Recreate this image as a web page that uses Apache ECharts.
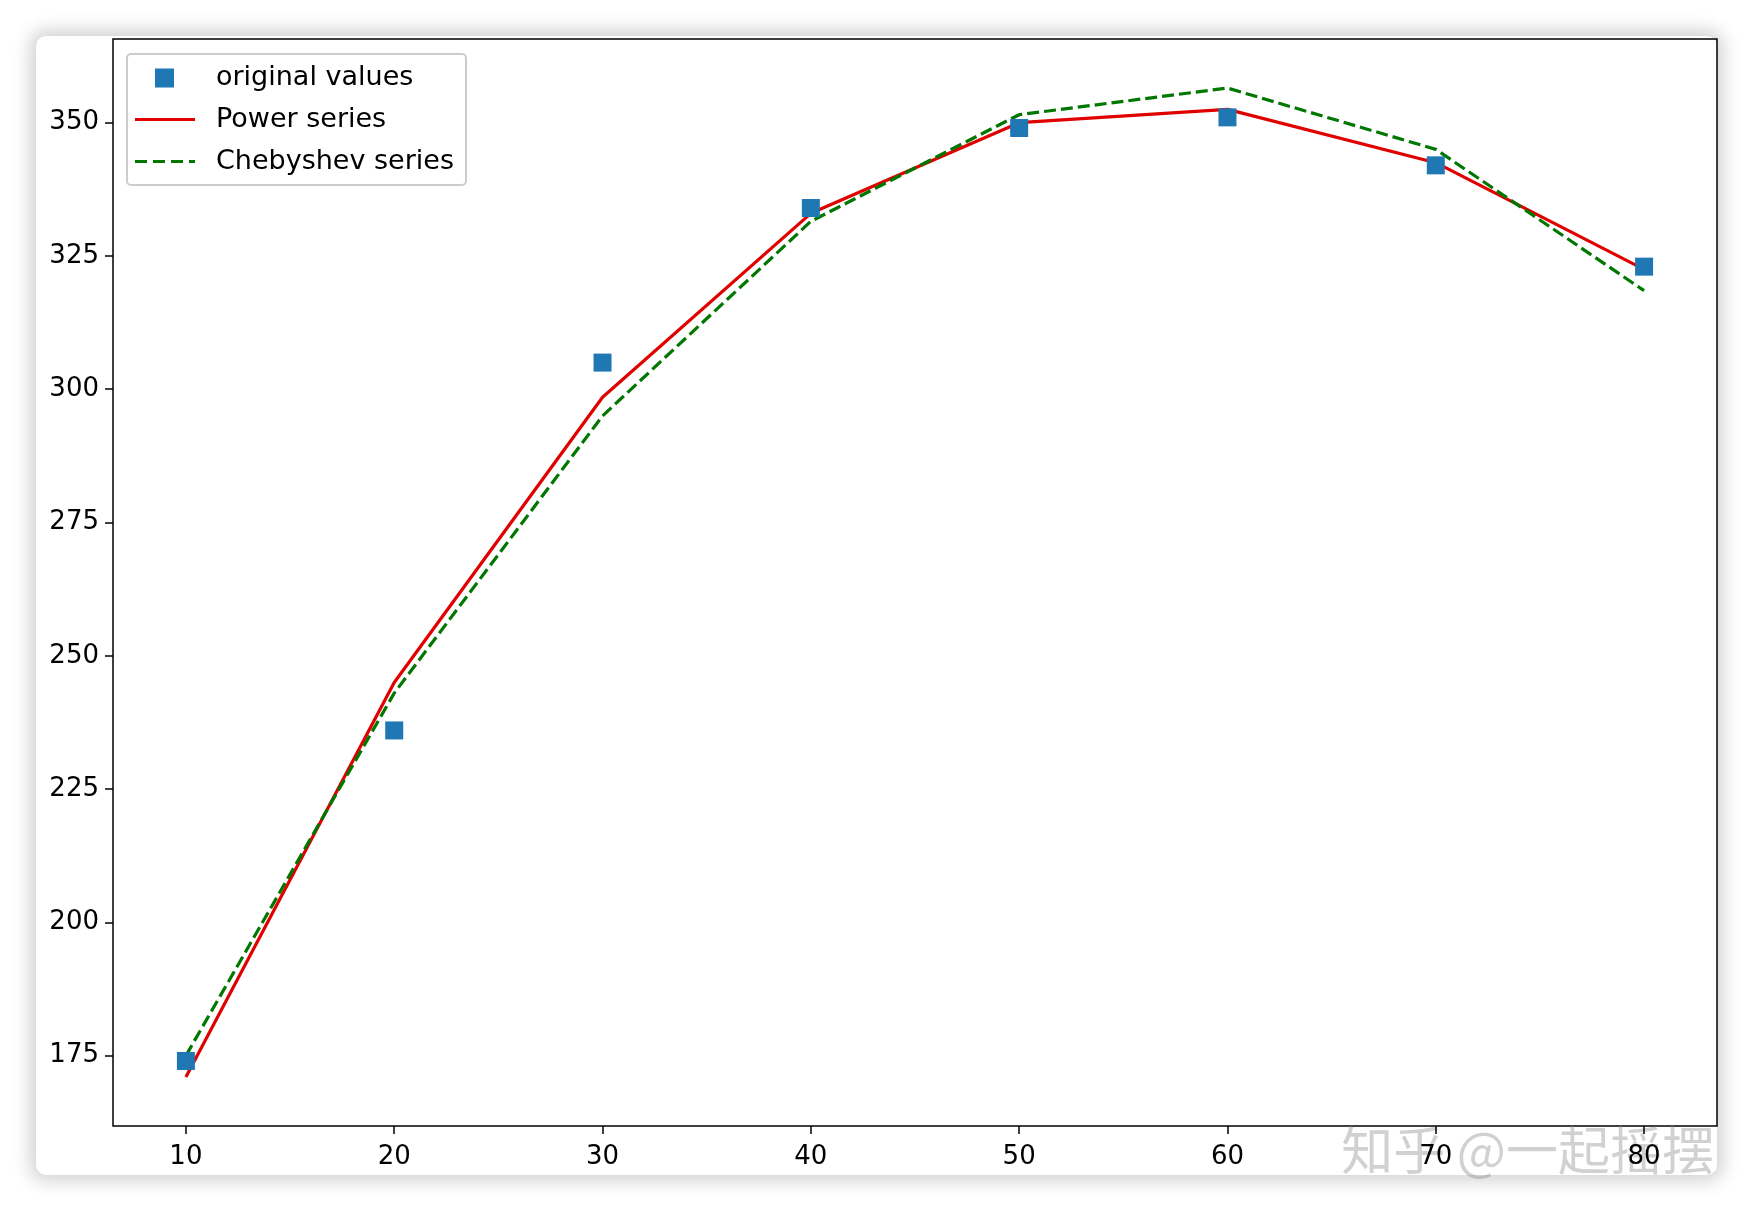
<!DOCTYPE html>
<html><head><meta charset="utf-8">
<script src="https://cdn.jsdelivr.net/npm/echarts@6/dist/echarts.min.js"></script>
<style>
html,body{margin:0;padding:0;background:#fff;}
#card{position:absolute;left:36px;top:36px;width:1681px;height:1139px;background:#fff;border-radius:10px;box-shadow:0 0 18px 6px rgba(0,0,0,0.18);}
#c{position:absolute;left:0;top:0;width:1754px;height:1212px;}
</style></head>
<body><div id="card"></div><div id="c"></div>
<script>
const xs = [10,20,30,40,50,60,70,80];
const original = [174,236,305,334,349,351,342,323];
const power = [171,245,298.5,333,350,352.5,342.5,322.5];
const cheb = [175,243,295,331.5,351.5,356.5,345,318.5];
const xTicks = [10,20,30,40,50,60,70,80];
const yTicks = [175,200,225,250,275,300,325,350];
const pair = a => xs.map((x,i)=>[x,a[i]]);
const chart = echarts.init(document.getElementById('c'));
const font = {fontFamily:'DejaVu Sans',fontSize:26,color:'#000'};
const lfont = {fontFamily:'DejaVu Sans',fontSize:27,color:'#000'};
const ext = 'M0,0L0,0.01L0.01,0z M60,20L60,19.99L59.99,20z ';
const sqIcon = 'path://'+ext+'M20,1h19v19h-19z';
const lineIcon = 'path://'+ext+'M0,8.5h60v3h-60z';
const dashIcon = 'path://'+ext+'M0,8.5h12v3h-12z M18,8.5h12v3h-12z M36,8.5h12v3h-12z M54,8.5h6v3h-6z';
chart.setOption({
  animation:false,
  grid:{left:113,right:37,top:39,bottom:86,show:true,borderColor:'#000',borderWidth:1.5,backgroundColor:'transparent'},
  xAxis:{type:'value',min:6.5,max:83.5,splitLine:{show:false},
    axisLine:{show:false},
    axisTick:{show:true,customValues:xTicks,length:8,lineStyle:{color:'#000',width:1.5}},
    axisLabel:Object.assign({customValues:xTicks,margin:18},font)},
  yAxis:{type:'value',min:161.8,max:365.7,splitLine:{show:false},
    axisLine:{show:false},
    axisTick:{show:true,customValues:yTicks,length:8,lineStyle:{color:'#000',width:1.5}},
    axisLabel:Object.assign({customValues:yTicks,margin:14},font)},
  legend:{orient:'vertical',left:127,top:54,itemGap:15,itemWidth:60,itemHeight:20,
    padding:[10,12,10,8],backgroundColor:'#fff',borderColor:'#ccc',borderWidth:2,borderRadius:4,
    textStyle:Object.assign({padding:[0,0,0,16]},lfont),
    data:[{name:'original values',icon:sqIcon,itemStyle:{color:'#1f77b4'}},
          {name:'Power series',icon:lineIcon,itemStyle:{color:'#e00000'}},
          {name:'Chebyshev series',icon:dashIcon,itemStyle:{color:'#007700'}}]},
  graphic:[{type:'text',right:40,bottom:36,style:{text:'知乎 @一起摇摆',fontFamily:'Noto Sans CJK SC',fontSize:52,fill:'rgba(140,140,140,0.4)'}}],
  series:[
    {name:'original values',type:'scatter',data:pair(original),symbol:'rect',symbolSize:18,itemStyle:{color:'#1f77b4',opacity:1},z:3},
    {name:'Power series',type:'line',data:pair(power),symbol:'none',lineStyle:{color:'#e00000',width:3.2},itemStyle:{color:'#e00000'},z:2},
    {name:'Chebyshev series',type:'line',data:pair(cheb),symbol:'none',lineStyle:{color:'#007700',width:3.2,type:[12,5]},itemStyle:{color:'#007700'},z:2}
  ]
});
</script></body></html>
